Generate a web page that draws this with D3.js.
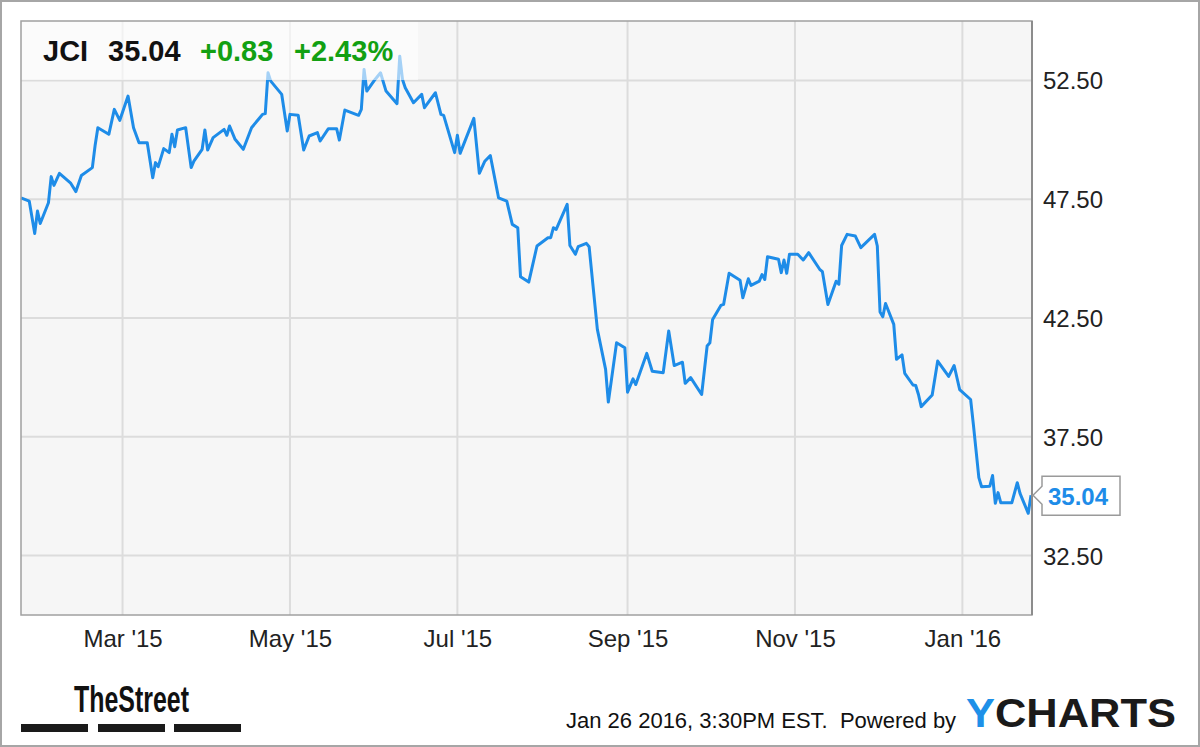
<!DOCTYPE html>
<html>
<head>
<meta charset="utf-8">
<script src="https://cdn.jsdelivr.net/npm/d3@7"></script>
<style>
	body { margin: 0; background: #fff; }
	svg { display: block; font-family: "Liberation Sans", Arial, sans-serif; }
	.grid line { stroke: #dcdcdc; stroke-width: 2; }
	.axis-label { fill: #222; font-size: 24px; }
	.price-line { fill: none; stroke: #1e8ce8; stroke-width: 3; stroke-linejoin: round; }
</style>
</head>
<body>
<script>
const ticker = "JCI";
const lastPrice = "35.04";
const change = "+0.83";
const changePct = "+2.43%";
const stamp = "Jan 26 2016, 3:30PM EST.  Powered by";

const yTicks = [32.5, 37.5, 42.5, 47.5, 52.5];
const xTicks = ["2015-03-01", "2015-05-01", "2015-07-01", "2015-09-01", "2015-11-01", "2016-01-01"];

const dates = [
	"2015-01-23", "2015-01-26", "2015-01-28", "2015-01-29", "2015-01-30", "2015-02-02", "2015-02-03", "2015-02-04",
	"2015-02-06", "2015-02-10", "2015-02-12", "2015-02-14", "2015-02-18", "2015-02-19", "2015-02-20", "2015-02-24",
	"2015-02-26", "2015-02-28", "2015-03-03", "2015-03-05", "2015-03-07", "2015-03-10", "2015-03-12", "2015-03-13",
	"2015-03-14", "2015-03-16", "2015-03-18", "2015-03-19", "2015-03-20", "2015-03-21", "2015-03-24", "2015-03-26",
	"2015-03-27", "2015-03-30", "2015-03-31", "2015-04-01", "2015-04-03", "2015-04-07", "2015-04-08", "2015-04-09",
	"2015-04-11", "2015-04-14", "2015-04-17", "2015-04-20", "2015-04-21", "2015-04-22", "2015-04-23", "2015-04-24",
	"2015-04-28", "2015-04-30", "2015-05-01", "2015-05-04", "2015-05-06", "2015-05-08", "2015-05-11", "2015-05-12",
	"2015-05-15", "2015-05-18", "2015-05-19", "2015-05-21", "2015-05-26", "2015-05-27", "2015-05-28", "2015-05-29",
	"2015-06-01", "2015-06-03", "2015-06-05", "2015-06-09", "2015-06-10", "2015-06-11", "2015-06-12", "2015-06-15",
	"2015-06-18", "2015-06-19", "2015-06-23", "2015-06-25", "2015-06-26", "2015-06-30", "2015-07-01", "2015-07-02",
	"2015-07-07", "2015-07-09", "2015-07-11", "2015-07-13", "2015-07-16", "2015-07-19", "2015-07-21", "2015-07-23",
	"2015-07-24", "2015-07-27", "2015-07-30", "2015-08-03", "2015-08-04", "2015-08-05", "2015-08-06", "2015-08-10",
	"2015-08-11", "2015-08-13", "2015-08-14", "2015-08-17", "2015-08-18", "2015-08-21", "2015-08-24", "2015-08-25",
	"2015-08-28", "2015-08-31", "2015-09-01", "2015-09-03", "2015-09-04", "2015-09-08", "2015-09-10", "2015-09-14",
	"2015-09-16", "2015-09-18", "2015-09-21", "2015-09-22", "2015-09-24", "2015-09-28", "2015-09-30", "2015-10-01",
	"2015-10-02", "2015-10-05", "2015-10-06", "2015-10-08", "2015-10-12", "2015-10-13", "2015-10-15", "2015-10-16",
	"2015-10-19", "2015-10-20", "2015-10-21", "2015-10-22", "2015-10-26", "2015-10-27", "2015-10-28", "2015-10-29",
	"2015-10-30", "2015-11-02", "2015-11-04", "2015-11-06", "2015-11-10", "2015-11-11", "2015-11-13", "2015-11-16",
	"2015-11-17", "2015-11-18", "2015-11-20", "2015-11-23", "2015-11-25", "2015-11-30", "2015-12-01", "2015-12-02",
	"2015-12-03", "2015-12-04", "2015-12-07", "2015-12-08", "2015-12-10", "2015-12-11", "2015-12-14", "2015-12-15",
	"2015-12-16", "2015-12-17", "2015-12-21", "2015-12-23", "2015-12-27", "2015-12-29", "2015-12-31", "2016-01-04",
	"2016-01-05", "2016-01-07", "2016-01-08", "2016-01-11", "2016-01-12", "2016-01-13", "2016-01-14", "2016-01-15",
	"2016-01-19", "2016-01-21", "2016-01-22", "2016-01-25", "2016-01-26"
];

const prices = [
	47.56, 47.42, 46.06, 47.00, 46.48, 47.35, 48.45, 48.08,
	48.59, 48.19, 47.82, 48.50, 48.83, 49.76, 50.51, 50.23,
	51.28, 50.82, 51.84, 50.51, 49.88, 49.88, 48.40, 49.04,
	48.87, 49.63, 49.46, 50.23, 49.71, 50.41, 50.51, 48.83,
	49.10, 49.60, 50.41, 49.57, 50.09, 50.44, 50.19, 50.58,
	50.02, 49.60, 50.51, 50.93, 51.07, 51.10, 52.82, 52.47,
	51.91, 50.37, 51.07, 51.03, 49.57, 50.16, 50.30, 49.95,
	50.47, 50.47, 49.99, 51.25, 51.03, 51.28, 52.96, 52.05,
	52.54, 52.82, 52.05, 51.52, 53.52, 52.54, 52.19, 51.56,
	51.91, 51.35, 51.98, 51.07, 51.03, 49.46, 50.19, 49.43,
	50.90, 48.59, 49.10, 49.34, 47.56, 47.42, 46.44, 46.30,
	44.24, 44.01, 45.53, 45.88, 45.88, 46.30, 46.23, 47.28,
	45.55, 45.18, 45.50, 45.64, 45.50, 42.02, 40.34, 38.96,
	41.46, 41.25, 39.38, 39.94, 39.70, 41.01, 40.26, 40.20,
	41.95, 40.50, 40.64, 39.75, 39.99, 39.28, 41.32, 41.46,
	42.44, 43.03, 43.07, 44.38, 44.09, 43.35, 44.15, 43.87,
	44.05, 44.33, 44.12, 45.08, 44.97, 44.41, 44.94, 44.38,
	45.18, 45.18, 44.94, 45.25, 44.55, 44.45, 43.07, 44.05,
	43.92, 45.55, 46.02, 45.95, 45.46, 46.02, 45.53, 42.75,
	42.55, 43.11, 42.23, 40.76, 40.95, 40.17, 39.68, 39.66,
	39.28, 38.77, 39.26, 40.69, 40.04, 40.50, 39.49, 39.07,
	38.02, 35.78, 35.40, 35.42, 35.87, 34.70, 35.15, 34.72,
	34.72, 35.57, 35.12, 34.28, 35.04
];

const config = {
	width: 1200,
	height: 747,
	left: 21,
	top: 21,
	right: 1032,
	bottom: 615,
	lineColor: "#1e8ce8",
	green: "#12a012"
};

const parse = d3.timeParse("%Y-%m-%d");
const series = dates.map((d, i) => ({ date: parse(d), value: prices[i] }));

const svg = d3.select("body")
	.append("svg")
	.attr("width", config.width)
	.attr("height", config.height);

const x = d3.scaleTime()
	.domain([parse("2015-01-23"), parse("2016-01-26")])
	.range([config.left, config.right - 1]);

const y = d3.scaleLinear()
	.domain([30, 55])
	.range([config.bottom, config.top]);

// outer frame
svg.append("rect")
	.attr("x", 1).attr("y", 1)
	.attr("width", config.width - 2).attr("height", config.height - 2)
	.attr("fill", "#fff").attr("stroke", "#a6a6a6").attr("stroke-width", 2);

// plot background
svg.append("rect")
	.attr("x", config.left).attr("y", config.top)
	.attr("width", config.right - config.left).attr("height", config.bottom - config.top)
	.attr("fill", "#f6f6f6");

// grid
const grid = svg.append("g").attr("class", "grid");
grid.selectAll(".h")
	.data(yTicks)
	.join("line")
	.attr("x1", config.left).attr("x2", config.right)
	.attr("y1", d => y(d)).attr("y2", d => y(d));
grid.selectAll(".v")
	.data(xTicks.map(parse))
	.join("line")
	.attr("x1", d => x(d)).attr("x2", d => x(d))
	.attr("y1", config.top).attr("y2", config.bottom);

// price line
const line = d3.line()
	.x(d => x(d.date))
	.y(d => y(d.value));

svg.append("path")
	.datum(series)
	.attr("class", "price-line")
	.attr("d", line);

// header box washes over the line
svg.append("rect")
	.attr("x", config.left).attr("y", config.top)
	.attr("width", 397).attr("height", 59)
	.attr("fill", "#fff").attr("opacity", 0.6);

const header = svg.append("text")
	.attr("y", 61)
	.attr("font-size", 29)
	.attr("font-weight", "bold");
header.append("tspan").attr("x", 43).attr("fill", "#111").text(ticker);
header.append("tspan").attr("x", 108).attr("fill", "#111").text(lastPrice);
header.append("tspan").attr("x", 200).attr("fill", config.green).text(change);
header.append("tspan").attr("x", 294).attr("fill", config.green).text(changePct);

// plot frame
svg.append("rect")
	.attr("x", config.left).attr("y", config.top)
	.attr("width", config.right - config.left).attr("height", config.bottom - config.top)
	.attr("fill", "none").attr("stroke", "#a0a0a0").attr("stroke-width", 1.5);
svg.append("line")
	.attr("x1", config.right).attr("x2", config.right)
	.attr("y1", config.top).attr("y2", config.bottom)
	.attr("stroke", "#8c8c8c").attr("stroke-width", 2);

// y axis labels (right)
const yAxis = d3.axisRight(y)
	.tickValues(yTicks)
	.tickFormat(d3.format(".2f"))
	.tickSize(0)
	.tickPadding(11);
const yG = svg.append("g")
	.attr("transform", `translate(${config.right},0)`)
	.call(yAxis);
yG.select(".domain").remove();
yG.selectAll("text")
	.attr("class", "axis-label")
	.attr("font-family", null).attr("font-size", null).attr("fill", null)
	.attr("dy", "0.35em");

// x axis labels
const xAxis = d3.axisBottom(x)
	.tickValues(xTicks.map(parse))
	.tickFormat(d3.timeFormat("%b '%y"))
	.tickSize(0)
	.tickPadding(15);
const xG = svg.append("g")
	.attr("transform", `translate(0,${config.bottom})`)
	.call(xAxis);
xG.select(".domain").remove();
xG.selectAll("text")
	.attr("class", "axis-label")
	.attr("font-family", null).attr("font-size", null).attr("fill", null)
	.attr("dy", "0.71em");

// last price flag
const lastY = y(prices[prices.length - 1]);
svg.append("path")
	.attr("d", `M${config.right + 1},${lastY} L${config.right + 10},${lastY - 9} L${config.right + 10},${lastY - 19}
		L${config.right + 88},${lastY - 19} L${config.right + 88},${lastY + 20} L${config.right + 10},${lastY + 20}
		L${config.right + 10},${lastY + 9} Z`)
	.attr("fill", "#fff").attr("stroke", "#9a9a9a").attr("stroke-width", 1.5);
svg.append("text")
	.attr("x", config.right + 16).attr("y", lastY + 10)
	.attr("font-size", 24).attr("font-weight", "bold")
	.attr("fill", config.lineColor)
	.text(lastPrice);

// footer: TheStreet logo
svg.append("text")
	.attr("x", 74).attr("y", 712)
	.attr("font-size", 36).attr("font-weight", "bold")
	.attr("textLength", 115).attr("lengthAdjust", "spacingAndGlyphs")
	.attr("fill", "#111")
	.text("TheStreet");
svg.selectAll(".bar")
	.data([21, 98, 174])
	.join("rect")
	.attr("x", d => d).attr("y", 724)
	.attr("width", 67).attr("height", 8)
	.attr("fill", "#1a1a1a");

// footer: timestamp and YCHARTS
svg.append("text")
	.attr("x", 566).attr("y", 728)
	.attr("font-size", 22).attr("fill", "#111")
	.attr("xml:space", "preserve")
	.text(stamp);
const yc = svg.append("text")
	.attr("x", 966).attr("y", 727)
	.attr("font-size", 40).attr("font-weight", "bold")
	.attr("textLength", 210).attr("lengthAdjust", "spacingAndGlyphs");
yc.append("tspan").attr("fill", "#1e90e8").text("Y");
yc.append("tspan").attr("fill", "#1a1a1a").text("CHARTS");
</script>
</body>
</html>
